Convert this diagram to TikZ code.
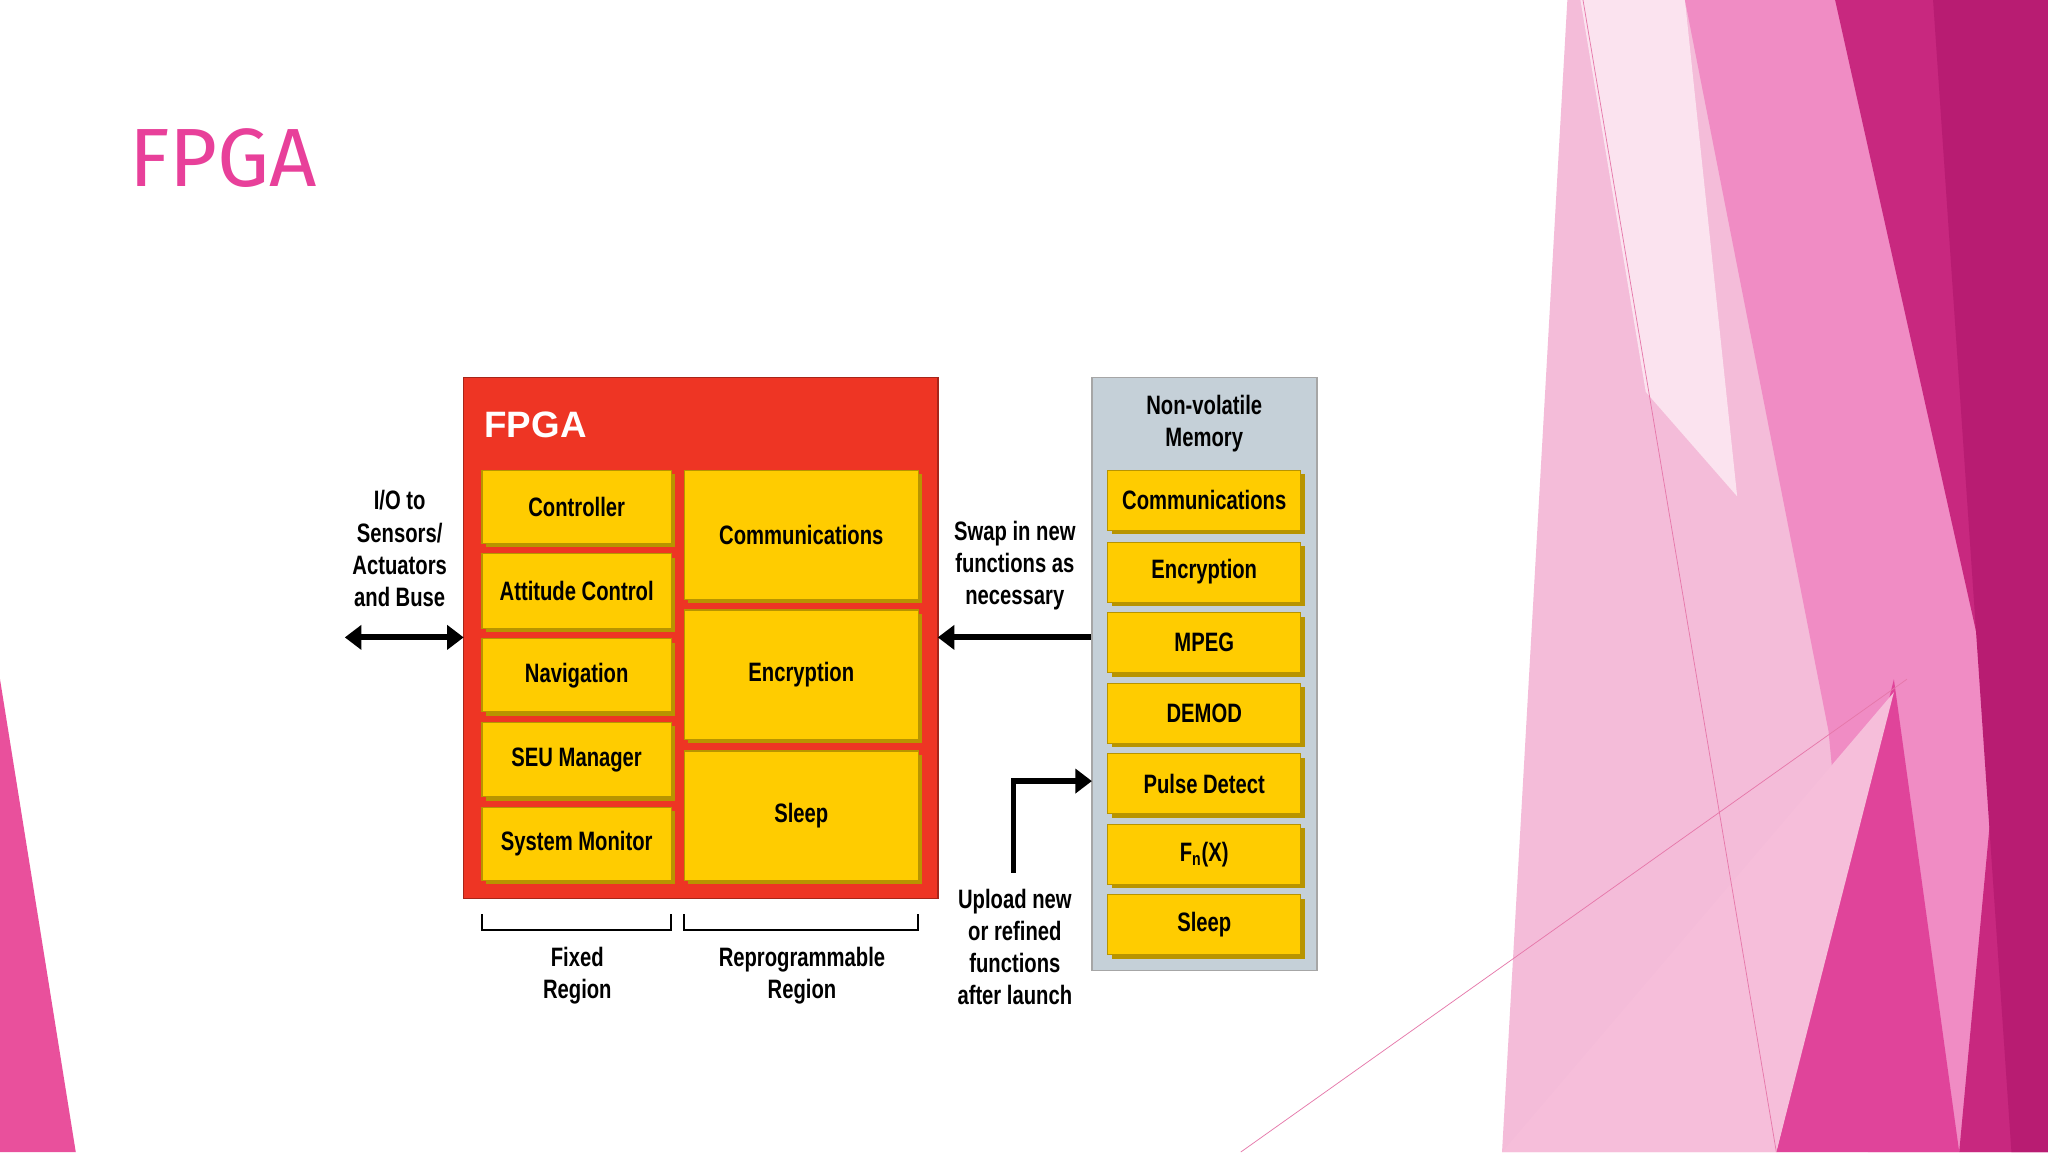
\documentclass[tikz,border=0pt]{standalone}
\usepackage{fontspec}
\setmainfont{Liberation Sans}
\newfontfamily\cond[FakeStretch=0.76]{Liberation Sans}
\newfontfamily\titlefont{Fira Sans}
\usetikzlibrary{arrows.meta}
\definecolor{fred}{HTML}{EE3524}
\definecolor{fyel}{HTML}{FFCC00}
\definecolor{fsh}{HTML}{B89400}
\definecolor{mgray}{HTML}{C5D0D8}
\definecolor{tpink}{HTML}{E8409A}
\definecolor{pk1}{HTML}{F4BCD9}
\definecolor{pk2}{HTML}{F08CC4}
\definecolor{pk3}{HTML}{C8287F}
\definecolor{pk4}{HTML}{B81C72}
\definecolor{pk5}{HTML}{E0449A}
\definecolor{pk6}{HTML}{F6BEDA}
\definecolor{pk7}{HTML}{FBE3EF}
\definecolor{pkl}{HTML}{E678AA}
\definecolor{pk8}{HTML}{E9509C}
\begin{document}
\begin{tikzpicture}[x=0.25mm,y=-0.25mm,
  ybox/.style={fill=fyel,draw=fsh,line width=0.6pt},
  lbl/.style={font=\cond\bfseries\fontsize{14.5}{17.5}\selectfont,align=center},
  arr/.style={line width=3.2pt,-{Triangle[length=9pt,width=13pt]}}]
\useasboundingbox (0,0) rectangle (1568,882);
\fill[white] (0,0) rectangle (1568,882);
% decoration
\fill[pk1] (1200,0)--(1568,0)--(1568,882)--(1150,882)--cycle;
\fill[pk7] (1210,0)--(1290,0)--(1330,380)--(1260,300)--cycle;
\fill[pk2] (1290,0)--(1568,0)--(1568,882)--(1430,882)--(1400,560)--cycle;
\fill[pk3] (1405,0)--(1568,0)--(1568,882)--(1500,882)--(1530,560)--cycle;
\fill[pk4] (1480,0)--(1568,0)--(1568,882)--(1540,882)--cycle;
\fill[pk5] (1360,882)--(1450,520)--(1500,882)--cycle;
\fill[pk6] (1150,882)--(1450,530)--(1360,882)--cycle;
\draw[pkl,line width=0.4pt] (1212,0)--(1360,882) (950,882)--(1460,520);
\fill[pk8] (0,520)--(58,882)--(0,882)--cycle;
% title
\node[anchor=west,text=tpink,font=\titlefont\fontsize{45}{50}\selectfont] (title) at (94,121) {FPGA};
% FPGA box
\draw[fred!70!black,fill=fred,line width=0.8pt] (355,289) rectangle (718,688);
\node[anchor=west,text=white,font=\bfseries\fontsize{20}{24}\selectfont] (flab) at (366,325) {FPGA};
\foreach \n/\a/\b/\t in {c1/360/416/Controller,c2/424/481/Attitude Control,c3/489/545/Navigation,c4/553/610/SEU Manager,c5/618/674/System Monitor}{
  \fill[fsh] (372,\a+3) rectangle (517,\b+3);
  \draw[ybox] (369,\a) rectangle (514,\b);
  \node[font=\cond\bfseries\fontsize{14.5}{17}\selectfont] (\n) at (441.5,{(\a+\b)/2}) {\t};}
\foreach \n/\a/\b/\t in {r1/360/459/Communications,r2/467/566/Encryption,r3/575/674/Sleep}{
  \fill[fsh] (527,\a+3) rectangle (706,\b+3);
  \draw[ybox] (524,\a) rectangle (703,\b);
  \node[font=\cond\bfseries\fontsize{14.5}{17}\selectfont] (\n) at (613.5,{(\a+\b)/2}) {\t};}
% memory
\draw[gray!70,fill=mgray,line width=1pt] (836,289) rectangle (1008,743);
\node[lbl] (mlab) at (922,324) {Non-volatile\\Memory};
\foreach \n/\a/\t in {m1/360/Communications,m2/415/Encryption,m3/469/MPEG,m4/523/DEMOD,m5/577/Pulse Detect,m6/631/F\textsubscript{n}(X),m7/685/Sleep}{
  \fill[fsh] (851,\a+3) rectangle (999,\a+49);
  \draw[ybox] (848,\a) rectangle (996,\a+46);
  \node[font=\cond\bfseries\fontsize{14.5}{17}\selectfont] (\n) at (922,\a+23) {\t};}
% arrows
\coordinate (ioL) at (264,488); \coordinate (ioR) at (355,488);
\draw[line width=3.2pt,{Triangle[length=9pt,width=13pt]}-{Triangle[length=9pt,width=13pt]}] (ioL)--(ioR);
\node[lbl] (io) at (306,420) {I/O to\\Sensors/\\Actuators\\and Buse};
\coordinate (sw1) at (835,488); \coordinate (sw2) at (718,488);
\draw[arr] (sw1)--(sw2);
\node[lbl] (swap) at (777,433) {Swap in new\\functions as\\necessary};
\coordinate (up0) at (776,668); \coordinate (up1) at (836,598);
\draw[arr] (up0)|-(up1);
\node[lbl] (upl) at (777,725) {Upload new\\or refined\\functions\\after launch};
% brackets
\draw[line width=1pt] (369,700)--(369,712)--(514,712)--(514,700);
\draw[line width=1pt] (524,700)--(524,712)--(703,712)--(703,700);
\node[lbl] (fix) at (442,747) {Fixed\\Region};
\node[lbl] (rep) at (614,747) {Reprogrammable\\Region};
\end{tikzpicture}
\end{document}
